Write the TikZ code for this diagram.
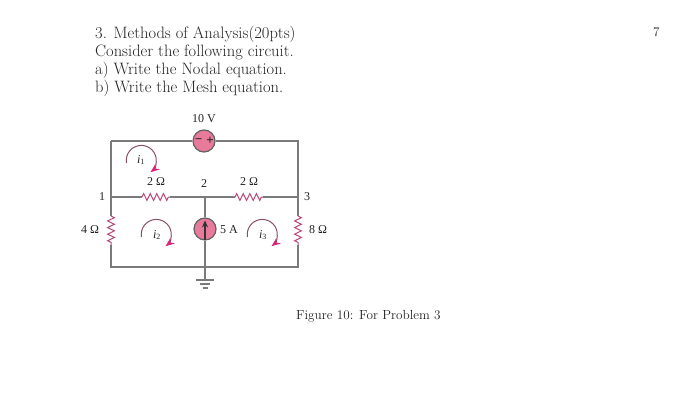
\documentclass[tikz,border=0pt]{standalone}
\usepackage{fontspec}
\usetikzlibrary{arrows.meta,decorations.pathmorphing}
\newfontfamily\figfont{Liberation Serif}
\definecolor{wiregray}{HTML}{7A7A7A}
\definecolor{partpink}{HTML}{E87A9C}
\definecolor{arrowpink}{HTML}{D6257A}
\definecolor{respink}{HTML}{B8487A}
\definecolor{loopgray}{HTML}{8A5068}
\definecolor{inkgray}{HTML}{222222}
\tikzset{
  wire/.style={wiregray, line width=1.1pt},
  res/.style={respink, line width=1pt, decorate, decoration={zigzag, segment length=6.6pt, amplitude=3.4pt}},
  srcnode/.style={draw=wiregray!80!black, line width=1.2pt, fill=partpink, shape=circle, minimum size=22pt, inner sep=0pt},
  looparrow/.style={loopgray, line width=1pt, -{Stealth[length=9pt, width=7pt, color=arrowpink]}},
  pagetext/.style={inkgray, anchor=base west, inner sep=0pt, font=\fontsize{16.5}{19}\selectfont},
  captext/.style={pagetext, font=\fontsize{13.2}{16}\selectfont},
  figlabel/.style={inkgray, inner sep=0pt, font=\figfont\fontsize{12}{14}\selectfont}
}
\begin{document}
\begin{tikzpicture}[x=1pt,y=-1pt]
\useasboundingbox (0,0) rectangle (700,410);

\node[pagetext] (title) at (95,38) {3. Methods of Analysis(20pts)};
\node[pagetext] (lineone) at (95,56.5) {Consider the following circuit.};
\node[pagetext] (linetwo) at (95,74.5) {a) Write the Nodal equation.};
\node[pagetext] (linethree) at (95,92.5) {b) Write the Mesh equation.};
\node[captext] (pagenum) at (653,36) {7};
\node[captext] (caption) at (296,319) {Figure 10: For Problem 3};

\coordinate (tl) at (111,141);
\coordinate (tr) at (298,141);
\coordinate (n1) at (111,197);
\coordinate (n2) at (205,197);
\coordinate (n3) at (298,197);
\coordinate (bl) at (111,267);
\coordinate (bm) at (205,267);
\coordinate (br) at (298,267);
\coordinate (gnd) at (205,280);

\coordinate (rone) at (142,197);
\coordinate (rtwo) at (170,197);
\coordinate (rthree) at (235,197);
\coordinate (rfour) at (263,197);
\coordinate (rfive) at (111,216);
\coordinate (rsix) at (111,245);
\coordinate (rseven) at (298,216);
\coordinate (reight) at (298,245);

\node[srcnode] (vs) at (204,141) {};
\node[srcnode] (cs) at (205,229) {};

\draw[wire] (tl) -- (vs) -- (tr) -- (n3) -- (rfour);
\draw[wire] (rthree) -- (n2) -- (rtwo);
\draw[wire] (rone) -- (n1) -- (tl);
\draw[wire] (n1) -- (rfive);
\draw[wire] (rsix) -- (bl) -- (bm) -- (br) -- (reight);
\draw[wire] (rseven) -- (n3);
\draw[wire] (n2) -- (cs) -- (bm) -- (gnd);

\draw[res] (rone) -- (rtwo);
\draw[res] (rthree) -- (rfour);
\draw[res] (rfive) -- (rsix);
\draw[res] (rseven) -- (reight);

\draw[wire] (196,280) -- (214,280);
\draw[wire] (200,284) -- (210,284);
\draw[wire] (202.5,288) -- (207.5,288);

\draw[black!80, line width=1.6pt, -{Stealth[length=7pt, width=6pt]}, shorten >=3pt, shorten <=1pt] (cs.south) -- (cs.north);

\node[figlabel, font=\figfont\bfseries\fontsize{13}{14}\selectfont] (minus) at (198.5,141) {\textminus};
\node[figlabel, font=\figfont\bfseries\fontsize{13}{14}\selectfont] (plus) at (210,141) {+};

\draw[looparrow] (126.5,163) arc[start angle=-190, end angle=52, radius=15];
\draw[looparrow] (141.5,237) arc[start angle=-190, end angle=52, radius=15];
\draw[looparrow] (247.5,237) arc[start angle=-190, end angle=52, radius=15];

\node[figlabel] (vlabel) at (204,118.5) {10 V};
\node[figlabel] (ionelabel) at (141,160) {\textit{i}\textsubscript{1}};
\node[figlabel] (itwolabel) at (157,235) {\textit{i}\textsubscript{2}};
\node[figlabel] (ithreelabel) at (263,235) {\textit{i}\textsubscript{3}};
\node[figlabel] (rleft) at (156,182) {2 Ω};
\node[figlabel] (rright) at (249,182) {2 Ω};
\node[figlabel] (labtwo) at (204,183.5) {2};
\node[figlabel] (labone) at (102,196.5) {1};
\node[figlabel] (labthree) at (307,197) {3};
\node[figlabel] (rfourohm) at (90,230) {4 Ω};
\node[figlabel] (reightohm) at (318,230) {8 Ω};
\node[figlabel] (csval) at (229,229.5) {5 A};
\end{tikzpicture}
\end{document}
